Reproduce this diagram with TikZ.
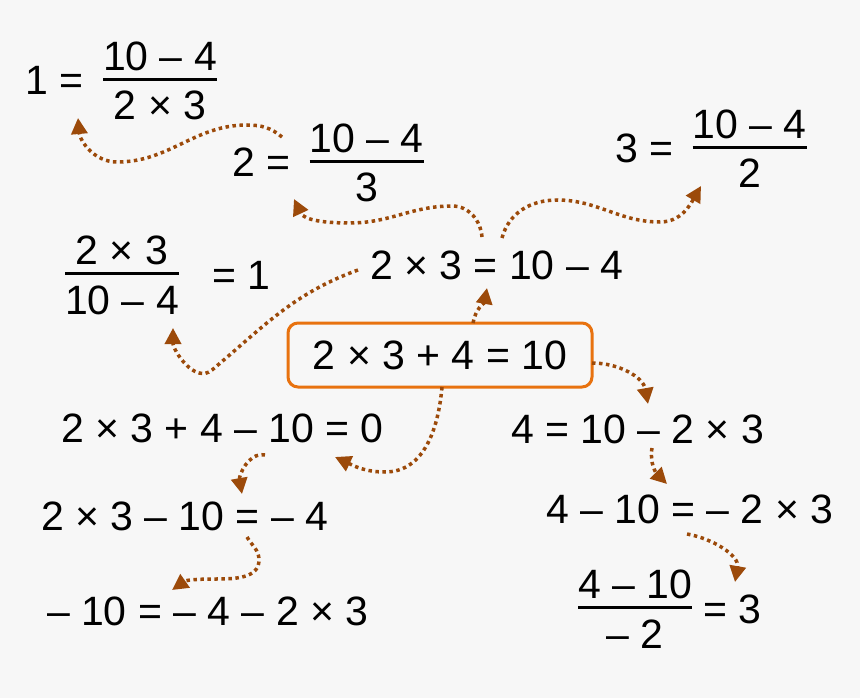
\documentclass[tikz,border=0pt]{standalone}
\usepackage{fontspec}
\setmainfont{Liberation Sans}
\usetikzlibrary{calc,arrows.meta}

\definecolor{arrowbrown}{HTML}{9C4A0A}
\definecolor{boxorange}{HTML}{E8720F}
\definecolor{bggray}{HTML}{F7F7F7}

% stacked fraction with a thick bar, bar centre about 16pt above the baseline
\newcommand{\frc}[2]{\lower25pt\vbox{\halign{\hfil##\hfil\cr#1\cr\noalign{\kern7pt\hrule height 3pt\kern10pt}#2\cr}}}

\begin{document}
\begin{tikzpicture}[x=1pt,y=1pt,inner sep=0pt,outer sep=0pt,
    every node/.style={font=\fontsize{41}{49}\selectfont},
    eq/.style={anchor=base west},
    frame/.style={draw=boxorange,line width=3pt,rounded corners=10pt,
        minimum width=304pt,minimum height=64pt},
    link/.style={draw=arrowbrown,color=arrowbrown,line width=3.5pt,
        dash pattern=on 3.5pt off 3.5pt,-{Triangle[length=16pt,width=16pt]}}]
    % background
    \fill[bggray] (0,0) rectangle (860,-698);
    \useasboundingbox (0,0) rectangle (860,-698);

    % starting equation
    \node[frame] (start) at (440,-355) {2 × 3 + 4 = 10};

    % upper branch
    \node[eq] (prod) at (370,-279) {2 × 3 = 10 – 4};
    \node[eq] (two) at (232,-177) {2 = \hspace{8pt}\frc{10 – 4}{3}};
    \node[eq] (one_a) at (25.5,-95) {1 = \hspace{8pt}\frc{10 – 4}{2 × 3}};
    \node[eq] (three) at (615,-163) {3 = \hspace{8pt}\frc{10 – 4}{2}};
    \node[eq] (one_b) at (65,-289) {\frc{2 × 3}{10 – 4}\hspace{22pt} = 1};

    % lower left branch
    \node[eq] (zero) at (61,-442) {2 × 3 + 4 – 10 = 0};
    \node[eq] (neg) at (41,-530) {2 × 3 – 10 = – 4};
    \node[eq] (minus) at (47,-625) {– 10 = – 4 – 2 × 3};

    % lower right branch
    \node[eq] (four) at (511,-443) {4 = 10 – 2 × 3};
    \node[eq] (diff) at (546,-523) {4 – 10 = – 2 × 3};
    \node[eq] (three_b) at (578,-623) {\frc{4 – 10}{– 2} = 3};

    % arrows
    \draw[link] ($(start.north)+(33,0)$) to[out=80,in=-100] ($(prod.base west)+(117,-9)$);
    \draw[link] ($(prod.base west)+(112,42)$) to[out=95,in=0] (452,-206)
        to[out=180,in=0] (350,-223) to[out=180,in=-65] ($(two.base west)+(62,-22)$);
    \draw[link] ($(prod.base west)+(132,41)$) to[out=75,in=180] (557,-200)
        to[out=0,in=180] (660,-222) to[out=0,in=-120] ($(three.base west)+(86,-23)$);
    \draw[link] ($(prod.base west)+(-12,9)$) to[out=200,in=40] (212,-370)
        to[out=220,in=-90] ($(one_b.base west)+(108,-39)$);
    \draw[link] ($(two.base west)+(50,40)$) to[out=140,in=0] (247,-125)
        to[out=180,in=0] (117,-162) to[out=180,in=-85] ($(one_a.base west)+(52.5,-23)$);
    \draw[link] ($(start.south)+(2,0)$) to[out=-95,in=0] (385,-472)
        to[out=180,in=-25] ($(zero.base west)+(274,-15)$);
    \draw[link] ($(start.east)+(0,-8)$) to[out=0,in=100] ($(four.base west)+(137,39)$);
    \draw[link] ($(four.base west)+(141,-5)$) to[out=-100,in=135] ($(diff.base west)+(121,39)$);
    \draw[link] ($(diff.base west)+(141,-11)$) to[out=-10,in=80] ($(three_b.base west)+(157,41)$);
    \draw[link] ($(zero.base west)+(204,-13)$) to[out=170,in=100] ($(neg.base west)+(201,36)$);
    \draw[link] ($(neg.base west)+(206,-7)$) to[out=-60,in=90] (259,-560)
        to[out=-90,in=0] (215,-579) to[out=180,in=35] ($(minus.base west)+(125,35)$);
\end{tikzpicture}
\end{document}
